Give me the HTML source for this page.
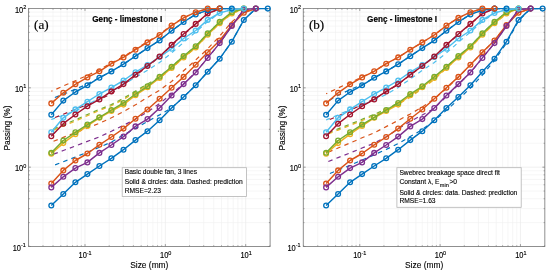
<!DOCTYPE html>
<html><head><meta charset="utf-8"><title>Genç - limestone I</title>
<style>
html,body{margin:0;padding:0;background:#fff}
svg{display:block}
text{font-family:"Liberation Sans",sans-serif;fill:#000;stroke:#000;stroke-width:0.12px}
.tk{font-size:8.3px;stroke-width:0.15px}
.lb{font-size:8.4px}
.tt{font-size:8.6px;font-weight:bold;stroke-width:0.2px}
.pl{font-family:"Liberation Serif",serif;font-size:13.1px;stroke-width:0.18px}
.bx{font-size:6.68px}
</style></head><body>
<svg width="550" height="273" viewBox="0 0 550 273">
<defs>
<clipPath id="cpa"><rect x="25.5" y="4.5" width="247.6" height="246.0"/></clipPath>
<clipPath id="cpb"><rect x="300.25" y="4.5" width="247.6" height="246.0"/></clipPath>
</defs>
<rect width="550" height="273" fill="#fff"/>
<rect x="28.5" y="8.5" width="241.6" height="238.0" fill="#fff"/>
<path d="M28.84,8.5V246.5M42.99,8.5V246.5M53.03,8.5V246.5M60.81,8.5V246.5M67.17,8.5V246.5M72.55,8.5V246.5M77.21,8.5V246.5M81.32,8.5V246.5M109.19,8.5V246.5M123.34,8.5V246.5M133.38,8.5V246.5M141.16,8.5V246.5M147.52,8.5V246.5M152.90,8.5V246.5M157.56,8.5V246.5M161.67,8.5V246.5M189.54,8.5V246.5M203.69,8.5V246.5M213.73,8.5V246.5M221.51,8.5V246.5M227.87,8.5V246.5M233.25,8.5V246.5M237.91,8.5V246.5M242.02,8.5V246.5M269.89,8.5V246.5M28.5,222.62H270.1M28.5,208.65H270.1M28.5,198.74H270.1M28.5,191.05H270.1M28.5,184.77H270.1M28.5,179.46H270.1M28.5,174.85H270.1M28.5,170.80H270.1M28.5,143.28H270.1M28.5,129.32H270.1M28.5,119.40H270.1M28.5,111.72H270.1M28.5,105.43H270.1M28.5,100.12H270.1M28.5,95.52H270.1M28.5,91.46H270.1M28.5,63.95H270.1M28.5,49.98H270.1M28.5,40.07H270.1M28.5,32.38H270.1M28.5,26.10H270.1M28.5,20.79H270.1M28.5,16.19H270.1M28.5,12.13H270.1" stroke="#f0f0f0" stroke-width="0.6" fill="none"/>
<path d="M85.00,8.5V246.5M165.35,8.5V246.5M245.70,8.5V246.5M28.5,246.50H270.1M28.5,167.17H270.1M28.5,87.83H270.1" stroke="#e9e9e9" stroke-width="0.7" fill="none"/>
<path d="M28.84,246.5v-1.2M28.84,8.5v1.2M42.99,246.5v-1.2M42.99,8.5v1.2M53.03,246.5v-1.2M53.03,8.5v1.2M60.81,246.5v-1.2M60.81,8.5v1.2M67.17,246.5v-1.2M67.17,8.5v1.2M72.55,246.5v-1.2M72.55,8.5v1.2M77.21,246.5v-1.2M77.21,8.5v1.2M81.32,246.5v-1.2M81.32,8.5v1.2M85.00,246.5v-2.4M85.00,8.5v2.4M109.19,246.5v-1.2M109.19,8.5v1.2M123.34,246.5v-1.2M123.34,8.5v1.2M133.38,246.5v-1.2M133.38,8.5v1.2M141.16,246.5v-1.2M141.16,8.5v1.2M147.52,246.5v-1.2M147.52,8.5v1.2M152.90,246.5v-1.2M152.90,8.5v1.2M157.56,246.5v-1.2M157.56,8.5v1.2M161.67,246.5v-1.2M161.67,8.5v1.2M165.35,246.5v-2.4M165.35,8.5v2.4M189.54,246.5v-1.2M189.54,8.5v1.2M203.69,246.5v-1.2M203.69,8.5v1.2M213.73,246.5v-1.2M213.73,8.5v1.2M221.51,246.5v-1.2M221.51,8.5v1.2M227.87,246.5v-1.2M227.87,8.5v1.2M233.25,246.5v-1.2M233.25,8.5v1.2M237.91,246.5v-1.2M237.91,8.5v1.2M242.02,246.5v-1.2M242.02,8.5v1.2M245.70,246.5v-2.4M245.70,8.5v2.4M269.89,246.5v-1.2M269.89,8.5v1.2M28.5,246.50h2.4M270.1,246.50h-2.4M28.5,222.62h1.2M270.1,222.62h-1.2M28.5,208.65h1.2M270.1,208.65h-1.2M28.5,198.74h1.2M270.1,198.74h-1.2M28.5,191.05h1.2M270.1,191.05h-1.2M28.5,184.77h1.2M270.1,184.77h-1.2M28.5,179.46h1.2M270.1,179.46h-1.2M28.5,174.85h1.2M270.1,174.85h-1.2M28.5,170.80h1.2M270.1,170.80h-1.2M28.5,167.17h2.4M270.1,167.17h-2.4M28.5,143.28h1.2M270.1,143.28h-1.2M28.5,129.32h1.2M270.1,129.32h-1.2M28.5,119.40h1.2M270.1,119.40h-1.2M28.5,111.72h1.2M270.1,111.72h-1.2M28.5,105.43h1.2M270.1,105.43h-1.2M28.5,100.12h1.2M270.1,100.12h-1.2M28.5,95.52h1.2M270.1,95.52h-1.2M28.5,91.46h1.2M270.1,91.46h-1.2M28.5,87.83h2.4M270.1,87.83h-2.4M28.5,63.95h1.2M270.1,63.95h-1.2M28.5,49.98h1.2M270.1,49.98h-1.2M28.5,40.07h1.2M270.1,40.07h-1.2M28.5,32.38h1.2M270.1,32.38h-1.2M28.5,26.10h1.2M270.1,26.10h-1.2M28.5,20.79h1.2M270.1,20.79h-1.2M28.5,16.19h1.2M270.1,16.19h-1.2M28.5,12.13h1.2M270.1,12.13h-1.2" stroke="#777" stroke-width="0.7" fill="none"/>
<rect x="28.5" y="8.5" width="241.6" height="238.0" fill="none" stroke="#787878" stroke-width="0.8"/>
<g clip-path="url(#cpa)">
<path d="M51.3,166.4 L63.3,161.7 L75.4,157.0 L87.4,152.2 L99.4,147.3 L111.4,142.0 L123.5,135.0 L135.5,128.4 L147.5,121.5 L159.6,114.9 L171.6,108.0 L183.6,97.0 L195.7,85.3 L207.7,71.8 L219.7,58.7 L231.8,41.7 L243.8,20.0 L255.8,8.6 L267.8,8.6" stroke="#0072BD" stroke-width="1.2" fill="none" stroke-dasharray="4.5 4.2" stroke-dashoffset="4.6"/>
<path d="M51.3,142.1 L63.3,137.4 L75.4,132.7 L87.4,128.0 L99.4,123.3 L111.4,117.8 L123.5,111.6 L135.5,104.8 L147.5,97.4 L159.6,90.2 L171.6,81.5 L183.6,70.8 L195.7,60.0 L207.7,48.8 L219.7,36.0 L231.8,22.0 L243.8,11.5 L255.8,8.6" stroke="#D95319" stroke-width="1.2" fill="none" stroke-dasharray="4.5 4.2" stroke-dashoffset="6.3"/>
<path d="M51.3,131.0 L63.3,126.1 L75.4,121.1 L87.4,115.7 L99.4,110.5 L111.4,105.8 L123.5,99.4 L135.5,92.2 L147.5,85.2 L159.6,78.4 L171.6,68.3 L183.6,57.7 L195.7,47.8 L207.7,35.0 L219.7,23.5 L231.8,13.8 L243.8,8.6" stroke="#EDB120" stroke-width="1.2" fill="none" stroke-dasharray="4.5 4.2" stroke-dashoffset="6.3"/>
<path d="M51.3,155.0 L63.3,150.5 L75.4,146.0 L87.4,141.4 L99.4,136.9 L111.4,131.3 L123.5,125.3 L135.5,119.2 L147.5,111.8 L159.6,103.5 L171.6,94.0 L183.6,84.0 L195.7,72.4 L207.7,57.9 L219.7,43.1 L231.8,26.0 L243.8,9.6 L255.8,8.6" stroke="#7E2F8E" stroke-width="1.2" fill="none" stroke-dasharray="4.5 4.2" stroke-dashoffset="6.3"/>
<path d="M51.3,129.8 L63.3,124.9 L75.4,119.9 L87.4,114.5 L99.4,109.3 L111.4,104.6 L123.5,98.2 L135.5,91.0 L147.5,84.0 L159.6,76.8 L171.6,66.7 L183.6,56.1 L195.7,46.2 L207.7,33.4 L219.7,21.9 L231.8,12.2 L243.8,8.6" stroke="#77AC30" stroke-width="1.2" fill="none" stroke-dasharray="4.5 4.2" stroke-dashoffset="6.3"/>
<path d="M51.3,119.5 L63.3,115.3 L75.4,111.0 L87.4,104.7 L99.4,98.1 L111.4,91.5 L123.5,84.5 L135.5,77.3 L147.5,70.3 L159.6,62.5 L171.6,53.0 L183.6,42.4 L195.7,32.0 L207.7,21.6 L219.7,13.0 L231.8,9.6 L243.8,8.6" stroke="#4DBEEE" stroke-width="1.2" fill="none" stroke-dasharray="4.5 4.2" stroke-dashoffset="0.5"/>
<path d="M51.3,119.0 L63.3,114.2 L75.4,109.3 L87.4,104.6 L99.4,99.8 L111.4,93.5 L123.5,85.0 L135.5,75.5 L147.5,66.5 L159.6,57.0 L171.6,45.5 L183.6,34.5 L195.7,24.5 L207.7,14.0 L219.7,8.6" stroke="#A2142F" stroke-width="1.2" fill="none" stroke-dasharray="4.5 4.2" stroke-dashoffset="4.7"/>
<path d="M51.3,98.8 L63.3,94.3 L75.4,89.2 L87.4,84.0 L99.4,77.8 L111.4,71.4 L123.5,64.2 L135.5,56.2 L147.5,48.1 L159.6,40.4 L171.6,30.8 L183.6,22.0 L195.7,14.4 L207.7,10.3 L219.7,8.6 L231.8,8.6" stroke="#0072BD" stroke-width="1.2" fill="none" stroke-dasharray="4.5 4.2" stroke-dashoffset="4.95"/>
<path d="M51.3,91.3 L63.3,86.0 L75.4,80.7 L87.4,75.3 L99.4,69.8 L111.4,63.0 L123.5,56.6 L135.5,48.9 L147.5,41.7 L159.6,34.4 L171.6,25.2 L183.6,17.7 L195.7,12.2 L207.7,8.6 L219.7,8.6" stroke="#D95319" stroke-width="1.2" fill="none" stroke-dasharray="4.5 4.2" stroke-dashoffset="3.2"/>
<path d="M51.3,205.5 L63.3,194.0 L75.4,182.3 L87.4,174.1 L99.4,166.0 L111.4,158.3 L123.5,149.7 L135.5,140.1 L147.5,131.2 L159.6,120.3 L171.6,108.0 L183.6,97.0 L195.7,85.3 L207.7,71.8 L219.7,58.7 L231.8,41.7 L243.8,20.0 L255.8,8.6 L267.8,8.6" stroke="#0072BD" stroke-width="1.45" fill="none" stroke-linejoin="round"/>
<g stroke="#0072BD" stroke-width="1.3" fill="none"><circle cx="51.3" cy="205.5" r="2.4"/><circle cx="63.3" cy="194.0" r="2.4"/><circle cx="75.4" cy="182.3" r="2.4"/><circle cx="87.4" cy="174.1" r="2.4"/><circle cx="99.4" cy="166.0" r="2.4"/><circle cx="111.4" cy="158.3" r="2.4"/><circle cx="123.5" cy="149.7" r="2.4"/><circle cx="135.5" cy="140.1" r="2.4"/><circle cx="147.5" cy="131.2" r="2.4"/><circle cx="159.6" cy="120.3" r="2.4"/><circle cx="171.6" cy="108.0" r="2.4"/><circle cx="183.6" cy="97.0" r="2.4"/><circle cx="195.7" cy="85.3" r="2.4"/><circle cx="207.7" cy="71.8" r="2.4"/><circle cx="219.7" cy="58.7" r="2.4"/><circle cx="231.8" cy="41.7" r="2.4"/><circle cx="243.8" cy="20.0" r="2.4"/><circle cx="255.8" cy="8.6" r="2.4"/><circle cx="267.8" cy="8.6" r="2.4"/></g>
<path d="M51.3,183.6 L63.3,170.4 L75.4,160.5 L87.4,153.5 L99.4,144.8 L111.4,137.0 L123.5,128.6 L135.5,118.8 L147.5,109.5 L159.6,98.8 L171.6,87.8 L183.6,76.9 L195.7,64.7 L207.7,52.3 L219.7,40.5 L231.8,25.0 L243.8,12.8 L255.8,8.6" stroke="#D95319" stroke-width="1.45" fill="none" stroke-linejoin="round"/>
<g stroke="#D95319" stroke-width="1.3" fill="none"><circle cx="51.3" cy="183.6" r="2.4"/><circle cx="63.3" cy="170.4" r="2.4"/><circle cx="75.4" cy="160.5" r="2.4"/><circle cx="87.4" cy="153.5" r="2.4"/><circle cx="99.4" cy="144.8" r="2.4"/><circle cx="111.4" cy="137.0" r="2.4"/><circle cx="123.5" cy="128.6" r="2.4"/><circle cx="135.5" cy="118.8" r="2.4"/><circle cx="147.5" cy="109.5" r="2.4"/><circle cx="159.6" cy="98.8" r="2.4"/><circle cx="171.6" cy="87.8" r="2.4"/><circle cx="183.6" cy="76.9" r="2.4"/><circle cx="195.7" cy="64.7" r="2.4"/><circle cx="207.7" cy="52.3" r="2.4"/><circle cx="219.7" cy="40.5" r="2.4"/><circle cx="231.8" cy="25.0" r="2.4"/><circle cx="243.8" cy="12.8" r="2.4"/><circle cx="255.8" cy="8.6" r="2.4"/></g>
<path d="M51.3,153.8 L63.3,143.1 L75.4,134.2 L87.4,125.9 L99.4,117.8 L111.4,111.0 L123.5,104.6 L135.5,95.2 L147.5,87.3 L159.6,78.0 L171.6,68.0 L183.6,57.4 L195.7,47.5 L207.7,34.7 L219.7,23.2 L231.8,13.4 L243.8,8.6" stroke="#EDB120" stroke-width="1.45" fill="none" stroke-linejoin="round"/>
<g stroke="#EDB120" stroke-width="1.3" fill="none"><circle cx="51.3" cy="153.8" r="2.4"/><circle cx="63.3" cy="143.1" r="2.4"/><circle cx="75.4" cy="134.2" r="2.4"/><circle cx="87.4" cy="125.9" r="2.4"/><circle cx="99.4" cy="117.8" r="2.4"/><circle cx="111.4" cy="111.0" r="2.4"/><circle cx="123.5" cy="104.6" r="2.4"/><circle cx="135.5" cy="95.2" r="2.4"/><circle cx="147.5" cy="87.3" r="2.4"/><circle cx="159.6" cy="78.0" r="2.4"/><circle cx="171.6" cy="68.0" r="2.4"/><circle cx="183.6" cy="57.4" r="2.4"/><circle cx="195.7" cy="47.5" r="2.4"/><circle cx="207.7" cy="34.7" r="2.4"/><circle cx="219.7" cy="23.2" r="2.4"/><circle cx="231.8" cy="13.4" r="2.4"/><circle cx="243.8" cy="8.6" r="2.4"/></g>
<path d="M51.3,187.4 L63.3,176.8 L75.4,168.1 L87.4,162.4 L99.4,152.9 L111.4,145.0 L123.5,136.6 L135.5,126.4 L147.5,119.1 L159.6,108.0 L171.6,95.5 L183.6,84.1 L195.7,72.4 L207.7,57.9 L219.7,43.1 L231.8,26.0 L243.8,9.6 L255.8,8.6" stroke="#7E2F8E" stroke-width="1.45" fill="none" stroke-linejoin="round"/>
<g stroke="#7E2F8E" stroke-width="1.3" fill="none"><circle cx="51.3" cy="187.4" r="2.4"/><circle cx="63.3" cy="176.8" r="2.4"/><circle cx="75.4" cy="168.1" r="2.4"/><circle cx="87.4" cy="162.4" r="2.4"/><circle cx="99.4" cy="152.9" r="2.4"/><circle cx="111.4" cy="145.0" r="2.4"/><circle cx="123.5" cy="136.6" r="2.4"/><circle cx="135.5" cy="126.4" r="2.4"/><circle cx="147.5" cy="119.1" r="2.4"/><circle cx="159.6" cy="108.0" r="2.4"/><circle cx="171.6" cy="95.5" r="2.4"/><circle cx="183.6" cy="84.1" r="2.4"/><circle cx="195.7" cy="72.4" r="2.4"/><circle cx="207.7" cy="57.9" r="2.4"/><circle cx="219.7" cy="43.1" r="2.4"/><circle cx="231.8" cy="26.0" r="2.4"/><circle cx="243.8" cy="9.6" r="2.4"/><circle cx="255.8" cy="8.6" r="2.4"/></g>
<path d="M51.3,152.8 L63.3,140.5 L75.4,132.3 L87.4,124.6 L99.4,117.3 L111.4,110.0 L123.5,103.0 L135.5,94.0 L147.5,86.3 L159.6,76.8 L171.6,66.7 L183.6,56.1 L195.7,46.2 L207.7,33.4 L219.7,21.9 L231.8,12.2 L243.8,8.6" stroke="#77AC30" stroke-width="1.45" fill="none" stroke-linejoin="round"/>
<g stroke="#77AC30" stroke-width="1.3" fill="none"><circle cx="51.3" cy="152.8" r="2.4"/><circle cx="63.3" cy="140.5" r="2.4"/><circle cx="75.4" cy="132.3" r="2.4"/><circle cx="87.4" cy="124.6" r="2.4"/><circle cx="99.4" cy="117.3" r="2.4"/><circle cx="111.4" cy="110.0" r="2.4"/><circle cx="123.5" cy="103.0" r="2.4"/><circle cx="135.5" cy="94.0" r="2.4"/><circle cx="147.5" cy="86.3" r="2.4"/><circle cx="159.6" cy="76.8" r="2.4"/><circle cx="171.6" cy="66.7" r="2.4"/><circle cx="183.6" cy="56.1" r="2.4"/><circle cx="195.7" cy="46.2" r="2.4"/><circle cx="207.7" cy="33.4" r="2.4"/><circle cx="219.7" cy="21.9" r="2.4"/><circle cx="231.8" cy="12.2" r="2.4"/><circle cx="243.8" cy="8.6" r="2.4"/></g>
<path d="M51.3,132.3 L63.3,117.8 L75.4,109.4 L87.4,101.7 L99.4,94.0 L111.4,87.6 L123.5,80.5 L135.5,72.2 L147.5,65.0 L159.6,57.0 L171.6,48.7 L183.6,38.5 L195.7,30.5 L207.7,19.9 L219.7,13.0 L231.8,9.6 L243.8,8.6" stroke="#4DBEEE" stroke-width="1.45" fill="none" stroke-linejoin="round"/>
<g stroke="#4DBEEE" stroke-width="1.3" fill="none"><circle cx="51.3" cy="132.3" r="2.4"/><circle cx="63.3" cy="117.8" r="2.4"/><circle cx="75.4" cy="109.4" r="2.4"/><circle cx="87.4" cy="101.7" r="2.4"/><circle cx="99.4" cy="94.0" r="2.4"/><circle cx="111.4" cy="87.6" r="2.4"/><circle cx="123.5" cy="80.5" r="2.4"/><circle cx="135.5" cy="72.2" r="2.4"/><circle cx="147.5" cy="65.0" r="2.4"/><circle cx="159.6" cy="57.0" r="2.4"/><circle cx="171.6" cy="48.7" r="2.4"/><circle cx="183.6" cy="38.5" r="2.4"/><circle cx="195.7" cy="30.5" r="2.4"/><circle cx="207.7" cy="19.9" r="2.4"/><circle cx="219.7" cy="13.0" r="2.4"/><circle cx="231.8" cy="9.6" r="2.4"/><circle cx="243.8" cy="8.6" r="2.4"/></g>
<path d="M51.3,136.2 L63.3,123.7 L75.4,114.5 L87.4,106.2 L99.4,99.4 L111.4,91.4 L123.5,84.1 L135.5,74.7 L147.5,66.0 L159.6,56.5 L171.6,44.9 L183.6,34.0 L195.7,23.9 L207.7,13.5 L219.7,8.6" stroke="#A2142F" stroke-width="1.45" fill="none" stroke-linejoin="round"/>
<g stroke="#A2142F" stroke-width="1.3" fill="none"><circle cx="51.3" cy="136.2" r="2.4"/><circle cx="63.3" cy="123.7" r="2.4"/><circle cx="75.4" cy="114.5" r="2.4"/><circle cx="87.4" cy="106.2" r="2.4"/><circle cx="99.4" cy="99.4" r="2.4"/><circle cx="111.4" cy="91.4" r="2.4"/><circle cx="123.5" cy="84.1" r="2.4"/><circle cx="135.5" cy="74.7" r="2.4"/><circle cx="147.5" cy="66.0" r="2.4"/><circle cx="159.6" cy="56.5" r="2.4"/><circle cx="171.6" cy="44.9" r="2.4"/><circle cx="183.6" cy="34.0" r="2.4"/><circle cx="195.7" cy="23.9" r="2.4"/><circle cx="207.7" cy="13.5" r="2.4"/><circle cx="219.7" cy="8.6" r="2.4"/></g>
<path d="M51.3,114.7 L63.3,100.6 L75.4,92.0 L87.4,85.3 L99.4,77.7 L111.4,71.4 L123.5,64.2 L135.5,56.2 L147.5,48.1 L159.6,40.4 L171.6,30.8 L183.6,22.0 L195.7,14.4 L207.7,10.3 L219.7,8.6 L231.8,8.6" stroke="#0072BD" stroke-width="1.45" fill="none" stroke-linejoin="round"/>
<g stroke="#0072BD" stroke-width="1.3" fill="none"><circle cx="51.3" cy="114.7" r="2.4"/><circle cx="63.3" cy="100.6" r="2.4"/><circle cx="75.4" cy="92.0" r="2.4"/><circle cx="87.4" cy="85.3" r="2.4"/><circle cx="99.4" cy="77.7" r="2.4"/><circle cx="111.4" cy="71.4" r="2.4"/><circle cx="123.5" cy="64.2" r="2.4"/><circle cx="135.5" cy="56.2" r="2.4"/><circle cx="147.5" cy="48.1" r="2.4"/><circle cx="159.6" cy="40.4" r="2.4"/><circle cx="171.6" cy="30.8" r="2.4"/><circle cx="183.6" cy="22.0" r="2.4"/><circle cx="195.7" cy="14.4" r="2.4"/><circle cx="207.7" cy="10.3" r="2.4"/><circle cx="219.7" cy="8.6" r="2.4"/><circle cx="231.8" cy="8.6" r="2.4"/></g>
<path d="M51.3,103.4 L63.3,92.8 L75.4,84.3 L87.4,77.4 L99.4,71.3 L111.4,63.7 L123.5,57.4 L135.5,49.7 L147.5,42.4 L159.6,35.0 L171.6,25.6 L183.6,17.9 L195.7,12.2 L207.7,8.6 L219.7,8.6" stroke="#D95319" stroke-width="1.45" fill="none" stroke-linejoin="round"/>
<g stroke="#D95319" stroke-width="1.3" fill="none"><circle cx="51.3" cy="103.4" r="2.4"/><circle cx="63.3" cy="92.8" r="2.4"/><circle cx="75.4" cy="84.3" r="2.4"/><circle cx="87.4" cy="77.4" r="2.4"/><circle cx="99.4" cy="71.3" r="2.4"/><circle cx="111.4" cy="63.7" r="2.4"/><circle cx="123.5" cy="57.4" r="2.4"/><circle cx="135.5" cy="49.7" r="2.4"/><circle cx="147.5" cy="42.4" r="2.4"/><circle cx="159.6" cy="35.0" r="2.4"/><circle cx="171.6" cy="25.6" r="2.4"/><circle cx="183.6" cy="17.9" r="2.4"/><circle cx="195.7" cy="12.2" r="2.4"/><circle cx="207.7" cy="8.6" r="2.4"/><circle cx="219.7" cy="8.6" r="2.4"/></g>
</g>
<text transform="translate(78.5,258.4) scale(0.9,1)" class="tk">10<tspan dy="-3.7" font-size="6.1">-1</tspan></text>
<text transform="translate(160.0,258.4) scale(0.9,1)" class="tk">10<tspan dy="-3.7" font-size="6.1">0</tspan></text>
<text transform="translate(240.4,258.4) scale(0.9,1)" class="tk">10<tspan dy="-3.7" font-size="6.1">1</tspan></text>
<text transform="translate(12.7,250.6) scale(0.9,1)" class="tk">10<tspan dy="-3.7" font-size="6.1">-1</tspan></text>
<text transform="translate(14.9,171.3) scale(0.9,1)" class="tk">10<tspan dy="-3.7" font-size="6.1">0</tspan></text>
<text transform="translate(14.9,91.9) scale(0.9,1)" class="tk">10<tspan dy="-3.7" font-size="6.1">1</tspan></text>
<text transform="translate(14.9,12.6) scale(0.9,1)" class="tk">10<tspan dy="-3.7" font-size="6.1">2</tspan></text>
<text x="149.3" y="268.2" text-anchor="middle" class="lb">Size (mm)</text>
<text transform="translate(10.1,128.0) rotate(-90)" text-anchor="middle" class="lb">Passing (%)</text>
<text transform="translate(92.3,22.4) scale(0.945,1)" class="tt">Genç - limestone I</text>
<text x="34.1" y="28.5" class="pl">(a)</text>
<rect x="122.2" y="167.7" width="124.2" height="28.7" fill="#fff" stroke="#b4b4b4" stroke-width="0.8"/>
<text x="124.7" y="174.3" class="bx">Basic double fan, 3 lines</text>
<text x="124.7" y="183.6" class="bx">Solid &amp; circles: data. Dashed: prediction</text>
<text x="124.7" y="192.6" class="bx">RMSE=2.23</text>
<rect x="303.25" y="8.5" width="241.6" height="238.0" fill="#fff"/>
<path d="M303.59,8.5V246.5M317.74,8.5V246.5M327.78,8.5V246.5M335.56,8.5V246.5M341.92,8.5V246.5M347.30,8.5V246.5M351.96,8.5V246.5M356.07,8.5V246.5M383.94,8.5V246.5M398.09,8.5V246.5M408.13,8.5V246.5M415.91,8.5V246.5M422.27,8.5V246.5M427.65,8.5V246.5M432.31,8.5V246.5M436.42,8.5V246.5M464.29,8.5V246.5M478.44,8.5V246.5M488.48,8.5V246.5M496.26,8.5V246.5M502.62,8.5V246.5M508.00,8.5V246.5M512.66,8.5V246.5M516.77,8.5V246.5M544.64,8.5V246.5M303.25,222.62H544.85M303.25,208.65H544.85M303.25,198.74H544.85M303.25,191.05H544.85M303.25,184.77H544.85M303.25,179.46H544.85M303.25,174.85H544.85M303.25,170.80H544.85M303.25,143.28H544.85M303.25,129.32H544.85M303.25,119.40H544.85M303.25,111.72H544.85M303.25,105.43H544.85M303.25,100.12H544.85M303.25,95.52H544.85M303.25,91.46H544.85M303.25,63.95H544.85M303.25,49.98H544.85M303.25,40.07H544.85M303.25,32.38H544.85M303.25,26.10H544.85M303.25,20.79H544.85M303.25,16.19H544.85M303.25,12.13H544.85" stroke="#f0f0f0" stroke-width="0.6" fill="none"/>
<path d="M359.75,8.5V246.5M440.10,8.5V246.5M520.45,8.5V246.5M303.25,246.50H544.85M303.25,167.17H544.85M303.25,87.83H544.85" stroke="#e9e9e9" stroke-width="0.7" fill="none"/>
<path d="M303.59,246.5v-1.2M303.59,8.5v1.2M317.74,246.5v-1.2M317.74,8.5v1.2M327.78,246.5v-1.2M327.78,8.5v1.2M335.56,246.5v-1.2M335.56,8.5v1.2M341.92,246.5v-1.2M341.92,8.5v1.2M347.30,246.5v-1.2M347.30,8.5v1.2M351.96,246.5v-1.2M351.96,8.5v1.2M356.07,246.5v-1.2M356.07,8.5v1.2M359.75,246.5v-2.4M359.75,8.5v2.4M383.94,246.5v-1.2M383.94,8.5v1.2M398.09,246.5v-1.2M398.09,8.5v1.2M408.13,246.5v-1.2M408.13,8.5v1.2M415.91,246.5v-1.2M415.91,8.5v1.2M422.27,246.5v-1.2M422.27,8.5v1.2M427.65,246.5v-1.2M427.65,8.5v1.2M432.31,246.5v-1.2M432.31,8.5v1.2M436.42,246.5v-1.2M436.42,8.5v1.2M440.10,246.5v-2.4M440.10,8.5v2.4M464.29,246.5v-1.2M464.29,8.5v1.2M478.44,246.5v-1.2M478.44,8.5v1.2M488.48,246.5v-1.2M488.48,8.5v1.2M496.26,246.5v-1.2M496.26,8.5v1.2M502.62,246.5v-1.2M502.62,8.5v1.2M508.00,246.5v-1.2M508.00,8.5v1.2M512.66,246.5v-1.2M512.66,8.5v1.2M516.77,246.5v-1.2M516.77,8.5v1.2M520.45,246.5v-2.4M520.45,8.5v2.4M544.64,246.5v-1.2M544.64,8.5v1.2M303.25,246.50h2.4M544.85,246.50h-2.4M303.25,222.62h1.2M544.85,222.62h-1.2M303.25,208.65h1.2M544.85,208.65h-1.2M303.25,198.74h1.2M544.85,198.74h-1.2M303.25,191.05h1.2M544.85,191.05h-1.2M303.25,184.77h1.2M544.85,184.77h-1.2M303.25,179.46h1.2M544.85,179.46h-1.2M303.25,174.85h1.2M544.85,174.85h-1.2M303.25,170.80h1.2M544.85,170.80h-1.2M303.25,167.17h2.4M544.85,167.17h-2.4M303.25,143.28h1.2M544.85,143.28h-1.2M303.25,129.32h1.2M544.85,129.32h-1.2M303.25,119.40h1.2M544.85,119.40h-1.2M303.25,111.72h1.2M544.85,111.72h-1.2M303.25,105.43h1.2M544.85,105.43h-1.2M303.25,100.12h1.2M544.85,100.12h-1.2M303.25,95.52h1.2M544.85,95.52h-1.2M303.25,91.46h1.2M544.85,91.46h-1.2M303.25,87.83h2.4M544.85,87.83h-2.4M303.25,63.95h1.2M544.85,63.95h-1.2M303.25,49.98h1.2M544.85,49.98h-1.2M303.25,40.07h1.2M544.85,40.07h-1.2M303.25,32.38h1.2M544.85,32.38h-1.2M303.25,26.10h1.2M544.85,26.10h-1.2M303.25,20.79h1.2M544.85,20.79h-1.2M303.25,16.19h1.2M544.85,16.19h-1.2M303.25,12.13h1.2M544.85,12.13h-1.2" stroke="#777" stroke-width="0.7" fill="none"/>
<rect x="303.25" y="8.5" width="241.6" height="238.0" fill="none" stroke="#787878" stroke-width="0.8"/>
<g clip-path="url(#cpb)">
<path d="M326.1,175.0 L338.1,170.2 L350.1,165.3 L362.1,160.0 L374.2,154.8 L386.2,149.5 L398.2,143.5 L410.3,136.6 L422.3,129.5 L434.3,120.5 L446.4,110.3 L458.4,99.5 L470.4,88.0 L482.4,75.0 L494.5,60.5 L506.5,43.0 L518.5,21.0 L530.6,8.6 L542.6,8.6" stroke="#0072BD" stroke-width="1.2" fill="none" stroke-dasharray="4.5 4.2" stroke-dashoffset="4.6"/>
<path d="M326.1,153.0 L338.1,148.0 L350.1,143.0 L362.1,137.8 L374.2,132.8 L386.2,126.6 L398.2,120.4 L410.3,114.0 L422.3,107.0 L434.3,98.8 L446.4,88.5 L458.4,77.2 L470.4,65.0 L482.4,52.5 L494.5,40.5 L506.5,25.0 L518.5,12.8 L530.6,8.6" stroke="#D95319" stroke-width="1.2" fill="none" stroke-dasharray="4.5 4.2" stroke-dashoffset="6.3"/>
<path d="M326.1,134.8 L338.1,130.1 L350.1,125.4 L362.1,120.5 L374.2,115.5 L386.2,110.2 L398.2,104.2 L410.3,97.2 L422.3,88.7 L434.3,79.6 L446.4,68.3 L458.4,57.7 L470.4,47.8 L482.4,35.0 L494.5,23.5 L506.5,13.8 L518.5,8.6" stroke="#EDB120" stroke-width="1.2" fill="none" stroke-dasharray="4.5 4.2" stroke-dashoffset="6.3"/>
<path d="M326.1,162.4 L338.1,157.6 L350.1,152.9 L362.1,148.0 L374.2,143.2 L386.2,136.8 L398.2,128.8 L410.3,121.3 L422.3,115.0 L434.3,108.3 L446.4,96.5 L458.4,84.6 L470.4,72.6 L482.4,58.0 L494.5,43.1 L506.5,26.0 L518.5,9.6 L530.6,8.6" stroke="#7E2F8E" stroke-width="1.2" fill="none" stroke-dasharray="4.5 4.2" stroke-dashoffset="6.3"/>
<path d="M326.1,133.6 L338.1,128.9 L350.1,124.2 L362.1,119.3 L374.2,114.3 L386.2,109.0 L398.2,103.0 L410.3,96.0 L422.3,87.5 L434.3,78.0 L446.4,66.7 L458.4,56.1 L470.4,46.2 L482.4,33.4 L494.5,21.9 L506.5,12.2 L518.5,8.6" stroke="#77AC30" stroke-width="1.2" fill="none" stroke-dasharray="4.5 4.2" stroke-dashoffset="6.3"/>
<path d="M326.1,120.0 L338.1,114.8 L350.1,109.6 L362.1,105.0 L374.2,100.0 L386.2,94.5 L398.2,87.5 L410.3,79.0 L422.3,70.3 L434.3,62.5 L446.4,53.0 L458.4,42.4 L470.4,32.0 L482.4,21.6 L494.5,13.0 L506.5,9.6 L518.5,8.6" stroke="#4DBEEE" stroke-width="1.2" fill="none" stroke-dasharray="4.5 4.2" stroke-dashoffset="0.5"/>
<path d="M326.1,121.0 L338.1,116.0 L350.1,110.3 L362.1,104.5 L374.2,99.0 L386.2,92.0 L398.2,84.3 L410.3,75.0 L422.3,66.2 L434.3,56.7 L446.4,45.2 L458.4,34.3 L470.4,24.2 L482.4,13.8 L494.5,8.6" stroke="#A2142F" stroke-width="1.2" fill="none" stroke-dasharray="4.5 4.2" stroke-dashoffset="4.7"/>
<path d="M326.1,102.0 L338.1,95.3 L350.1,89.7 L362.1,84.5 L374.2,78.0 L386.2,71.4 L398.2,64.2 L410.3,56.2 L422.3,48.1 L434.3,40.4 L446.4,30.8 L458.4,22.0 L470.4,14.4 L482.4,10.3 L494.5,8.6 L506.5,8.6" stroke="#0072BD" stroke-width="1.2" fill="none" stroke-dasharray="4.5 4.2" stroke-dashoffset="4.95"/>
<path d="M326.1,93.8 L338.1,88.0 L350.1,82.6 L362.1,77.0 L374.2,71.1 L386.2,63.7 L398.2,57.4 L410.3,49.7 L422.3,42.4 L434.3,35.0 L446.4,25.6 L458.4,17.9 L470.4,12.2 L482.4,8.6 L494.5,8.6" stroke="#D95319" stroke-width="1.2" fill="none" stroke-dasharray="4.5 4.2" stroke-dashoffset="3.2"/>
<path d="M326.1,205.5 L338.1,194.0 L350.1,182.3 L362.1,174.1 L374.2,166.0 L386.2,158.3 L398.2,149.7 L410.3,140.1 L422.3,131.2 L434.3,120.3 L446.4,108.0 L458.4,97.0 L470.4,85.3 L482.4,71.8 L494.5,58.7 L506.5,41.7 L518.5,20.0 L530.6,8.6 L542.6,8.6" stroke="#0072BD" stroke-width="1.45" fill="none" stroke-linejoin="round"/>
<g stroke="#0072BD" stroke-width="1.3" fill="none"><circle cx="326.1" cy="205.5" r="2.4"/><circle cx="338.1" cy="194.0" r="2.4"/><circle cx="350.1" cy="182.3" r="2.4"/><circle cx="362.1" cy="174.1" r="2.4"/><circle cx="374.2" cy="166.0" r="2.4"/><circle cx="386.2" cy="158.3" r="2.4"/><circle cx="398.2" cy="149.7" r="2.4"/><circle cx="410.3" cy="140.1" r="2.4"/><circle cx="422.3" cy="131.2" r="2.4"/><circle cx="434.3" cy="120.3" r="2.4"/><circle cx="446.4" cy="108.0" r="2.4"/><circle cx="458.4" cy="97.0" r="2.4"/><circle cx="470.4" cy="85.3" r="2.4"/><circle cx="482.4" cy="71.8" r="2.4"/><circle cx="494.5" cy="58.7" r="2.4"/><circle cx="506.5" cy="41.7" r="2.4"/><circle cx="518.5" cy="20.0" r="2.4"/><circle cx="530.6" cy="8.6" r="2.4"/><circle cx="542.6" cy="8.6" r="2.4"/></g>
<path d="M326.1,183.6 L338.1,170.4 L350.1,160.5 L362.1,153.5 L374.2,144.8 L386.2,137.0 L398.2,128.6 L410.3,118.8 L422.3,109.5 L434.3,98.8 L446.4,87.8 L458.4,76.9 L470.4,64.7 L482.4,52.3 L494.5,40.5 L506.5,25.0 L518.5,12.8 L530.6,8.6" stroke="#D95319" stroke-width="1.45" fill="none" stroke-linejoin="round"/>
<g stroke="#D95319" stroke-width="1.3" fill="none"><circle cx="326.1" cy="183.6" r="2.4"/><circle cx="338.1" cy="170.4" r="2.4"/><circle cx="350.1" cy="160.5" r="2.4"/><circle cx="362.1" cy="153.5" r="2.4"/><circle cx="374.2" cy="144.8" r="2.4"/><circle cx="386.2" cy="137.0" r="2.4"/><circle cx="398.2" cy="128.6" r="2.4"/><circle cx="410.3" cy="118.8" r="2.4"/><circle cx="422.3" cy="109.5" r="2.4"/><circle cx="434.3" cy="98.8" r="2.4"/><circle cx="446.4" cy="87.8" r="2.4"/><circle cx="458.4" cy="76.9" r="2.4"/><circle cx="470.4" cy="64.7" r="2.4"/><circle cx="482.4" cy="52.3" r="2.4"/><circle cx="494.5" cy="40.5" r="2.4"/><circle cx="506.5" cy="25.0" r="2.4"/><circle cx="518.5" cy="12.8" r="2.4"/><circle cx="530.6" cy="8.6" r="2.4"/></g>
<path d="M326.1,153.8 L338.1,143.1 L350.1,134.2 L362.1,125.9 L374.2,117.8 L386.2,111.0 L398.2,104.6 L410.3,95.2 L422.3,87.3 L434.3,78.0 L446.4,68.0 L458.4,57.4 L470.4,47.5 L482.4,34.7 L494.5,23.2 L506.5,13.4 L518.5,8.6" stroke="#EDB120" stroke-width="1.45" fill="none" stroke-linejoin="round"/>
<g stroke="#EDB120" stroke-width="1.3" fill="none"><circle cx="326.1" cy="153.8" r="2.4"/><circle cx="338.1" cy="143.1" r="2.4"/><circle cx="350.1" cy="134.2" r="2.4"/><circle cx="362.1" cy="125.9" r="2.4"/><circle cx="374.2" cy="117.8" r="2.4"/><circle cx="386.2" cy="111.0" r="2.4"/><circle cx="398.2" cy="104.6" r="2.4"/><circle cx="410.3" cy="95.2" r="2.4"/><circle cx="422.3" cy="87.3" r="2.4"/><circle cx="434.3" cy="78.0" r="2.4"/><circle cx="446.4" cy="68.0" r="2.4"/><circle cx="458.4" cy="57.4" r="2.4"/><circle cx="470.4" cy="47.5" r="2.4"/><circle cx="482.4" cy="34.7" r="2.4"/><circle cx="494.5" cy="23.2" r="2.4"/><circle cx="506.5" cy="13.4" r="2.4"/><circle cx="518.5" cy="8.6" r="2.4"/></g>
<path d="M326.1,187.4 L338.1,176.8 L350.1,168.1 L362.1,162.4 L374.2,152.9 L386.2,145.0 L398.2,136.6 L410.3,126.4 L422.3,119.1 L434.3,108.0 L446.4,95.5 L458.4,84.1 L470.4,72.4 L482.4,57.9 L494.5,43.1 L506.5,26.0 L518.5,9.6 L530.6,8.6" stroke="#7E2F8E" stroke-width="1.45" fill="none" stroke-linejoin="round"/>
<g stroke="#7E2F8E" stroke-width="1.3" fill="none"><circle cx="326.1" cy="187.4" r="2.4"/><circle cx="338.1" cy="176.8" r="2.4"/><circle cx="350.1" cy="168.1" r="2.4"/><circle cx="362.1" cy="162.4" r="2.4"/><circle cx="374.2" cy="152.9" r="2.4"/><circle cx="386.2" cy="145.0" r="2.4"/><circle cx="398.2" cy="136.6" r="2.4"/><circle cx="410.3" cy="126.4" r="2.4"/><circle cx="422.3" cy="119.1" r="2.4"/><circle cx="434.3" cy="108.0" r="2.4"/><circle cx="446.4" cy="95.5" r="2.4"/><circle cx="458.4" cy="84.1" r="2.4"/><circle cx="470.4" cy="72.4" r="2.4"/><circle cx="482.4" cy="57.9" r="2.4"/><circle cx="494.5" cy="43.1" r="2.4"/><circle cx="506.5" cy="26.0" r="2.4"/><circle cx="518.5" cy="9.6" r="2.4"/><circle cx="530.6" cy="8.6" r="2.4"/></g>
<path d="M326.1,152.8 L338.1,140.5 L350.1,132.3 L362.1,124.6 L374.2,117.3 L386.2,110.0 L398.2,103.0 L410.3,94.0 L422.3,86.3 L434.3,76.8 L446.4,66.7 L458.4,56.1 L470.4,46.2 L482.4,33.4 L494.5,21.9 L506.5,12.2 L518.5,8.6" stroke="#77AC30" stroke-width="1.45" fill="none" stroke-linejoin="round"/>
<g stroke="#77AC30" stroke-width="1.3" fill="none"><circle cx="326.1" cy="152.8" r="2.4"/><circle cx="338.1" cy="140.5" r="2.4"/><circle cx="350.1" cy="132.3" r="2.4"/><circle cx="362.1" cy="124.6" r="2.4"/><circle cx="374.2" cy="117.3" r="2.4"/><circle cx="386.2" cy="110.0" r="2.4"/><circle cx="398.2" cy="103.0" r="2.4"/><circle cx="410.3" cy="94.0" r="2.4"/><circle cx="422.3" cy="86.3" r="2.4"/><circle cx="434.3" cy="76.8" r="2.4"/><circle cx="446.4" cy="66.7" r="2.4"/><circle cx="458.4" cy="56.1" r="2.4"/><circle cx="470.4" cy="46.2" r="2.4"/><circle cx="482.4" cy="33.4" r="2.4"/><circle cx="494.5" cy="21.9" r="2.4"/><circle cx="506.5" cy="12.2" r="2.4"/><circle cx="518.5" cy="8.6" r="2.4"/></g>
<path d="M326.1,132.3 L338.1,117.8 L350.1,109.4 L362.1,101.7 L374.2,94.0 L386.2,87.6 L398.2,80.5 L410.3,72.2 L422.3,65.0 L434.3,57.0 L446.4,48.7 L458.4,38.5 L470.4,30.5 L482.4,19.9 L494.5,13.0 L506.5,9.6 L518.5,8.6" stroke="#4DBEEE" stroke-width="1.45" fill="none" stroke-linejoin="round"/>
<g stroke="#4DBEEE" stroke-width="1.3" fill="none"><circle cx="326.1" cy="132.3" r="2.4"/><circle cx="338.1" cy="117.8" r="2.4"/><circle cx="350.1" cy="109.4" r="2.4"/><circle cx="362.1" cy="101.7" r="2.4"/><circle cx="374.2" cy="94.0" r="2.4"/><circle cx="386.2" cy="87.6" r="2.4"/><circle cx="398.2" cy="80.5" r="2.4"/><circle cx="410.3" cy="72.2" r="2.4"/><circle cx="422.3" cy="65.0" r="2.4"/><circle cx="434.3" cy="57.0" r="2.4"/><circle cx="446.4" cy="48.7" r="2.4"/><circle cx="458.4" cy="38.5" r="2.4"/><circle cx="470.4" cy="30.5" r="2.4"/><circle cx="482.4" cy="19.9" r="2.4"/><circle cx="494.5" cy="13.0" r="2.4"/><circle cx="506.5" cy="9.6" r="2.4"/><circle cx="518.5" cy="8.6" r="2.4"/></g>
<path d="M326.1,136.2 L338.1,123.7 L350.1,114.5 L362.1,106.2 L374.2,99.4 L386.2,91.4 L398.2,84.1 L410.3,74.7 L422.3,66.0 L434.3,56.5 L446.4,44.9 L458.4,34.0 L470.4,23.9 L482.4,13.5 L494.5,8.6" stroke="#A2142F" stroke-width="1.45" fill="none" stroke-linejoin="round"/>
<g stroke="#A2142F" stroke-width="1.3" fill="none"><circle cx="326.1" cy="136.2" r="2.4"/><circle cx="338.1" cy="123.7" r="2.4"/><circle cx="350.1" cy="114.5" r="2.4"/><circle cx="362.1" cy="106.2" r="2.4"/><circle cx="374.2" cy="99.4" r="2.4"/><circle cx="386.2" cy="91.4" r="2.4"/><circle cx="398.2" cy="84.1" r="2.4"/><circle cx="410.3" cy="74.7" r="2.4"/><circle cx="422.3" cy="66.0" r="2.4"/><circle cx="434.3" cy="56.5" r="2.4"/><circle cx="446.4" cy="44.9" r="2.4"/><circle cx="458.4" cy="34.0" r="2.4"/><circle cx="470.4" cy="23.9" r="2.4"/><circle cx="482.4" cy="13.5" r="2.4"/><circle cx="494.5" cy="8.6" r="2.4"/></g>
<path d="M326.1,114.7 L338.1,100.6 L350.1,92.0 L362.1,85.3 L374.2,77.7 L386.2,71.4 L398.2,64.2 L410.3,56.2 L422.3,48.1 L434.3,40.4 L446.4,30.8 L458.4,22.0 L470.4,14.4 L482.4,10.3 L494.5,8.6 L506.5,8.6" stroke="#0072BD" stroke-width="1.45" fill="none" stroke-linejoin="round"/>
<g stroke="#0072BD" stroke-width="1.3" fill="none"><circle cx="326.1" cy="114.7" r="2.4"/><circle cx="338.1" cy="100.6" r="2.4"/><circle cx="350.1" cy="92.0" r="2.4"/><circle cx="362.1" cy="85.3" r="2.4"/><circle cx="374.2" cy="77.7" r="2.4"/><circle cx="386.2" cy="71.4" r="2.4"/><circle cx="398.2" cy="64.2" r="2.4"/><circle cx="410.3" cy="56.2" r="2.4"/><circle cx="422.3" cy="48.1" r="2.4"/><circle cx="434.3" cy="40.4" r="2.4"/><circle cx="446.4" cy="30.8" r="2.4"/><circle cx="458.4" cy="22.0" r="2.4"/><circle cx="470.4" cy="14.4" r="2.4"/><circle cx="482.4" cy="10.3" r="2.4"/><circle cx="494.5" cy="8.6" r="2.4"/><circle cx="506.5" cy="8.6" r="2.4"/></g>
<path d="M326.1,103.4 L338.1,92.8 L350.1,84.3 L362.1,77.4 L374.2,71.3 L386.2,63.7 L398.2,57.4 L410.3,49.7 L422.3,42.4 L434.3,35.0 L446.4,25.6 L458.4,17.9 L470.4,12.2 L482.4,8.6 L494.5,8.6" stroke="#D95319" stroke-width="1.45" fill="none" stroke-linejoin="round"/>
<g stroke="#D95319" stroke-width="1.3" fill="none"><circle cx="326.1" cy="103.4" r="2.4"/><circle cx="338.1" cy="92.8" r="2.4"/><circle cx="350.1" cy="84.3" r="2.4"/><circle cx="362.1" cy="77.4" r="2.4"/><circle cx="374.2" cy="71.3" r="2.4"/><circle cx="386.2" cy="63.7" r="2.4"/><circle cx="398.2" cy="57.4" r="2.4"/><circle cx="410.3" cy="49.7" r="2.4"/><circle cx="422.3" cy="42.4" r="2.4"/><circle cx="434.3" cy="35.0" r="2.4"/><circle cx="446.4" cy="25.6" r="2.4"/><circle cx="458.4" cy="17.9" r="2.4"/><circle cx="470.4" cy="12.2" r="2.4"/><circle cx="482.4" cy="8.6" r="2.4"/><circle cx="494.5" cy="8.6" r="2.4"/></g>
</g>
<text transform="translate(353.2,258.4) scale(0.9,1)" class="tk">10<tspan dy="-3.7" font-size="6.1">-1</tspan></text>
<text transform="translate(434.8,258.4) scale(0.9,1)" class="tk">10<tspan dy="-3.7" font-size="6.1">0</tspan></text>
<text transform="translate(515.2,258.4) scale(0.9,1)" class="tk">10<tspan dy="-3.7" font-size="6.1">1</tspan></text>
<text transform="translate(287.4,250.6) scale(0.9,1)" class="tk">10<tspan dy="-3.7" font-size="6.1">-1</tspan></text>
<text transform="translate(289.7,171.3) scale(0.9,1)" class="tk">10<tspan dy="-3.7" font-size="6.1">0</tspan></text>
<text transform="translate(289.7,91.9) scale(0.9,1)" class="tk">10<tspan dy="-3.7" font-size="6.1">1</tspan></text>
<text transform="translate(289.7,12.6) scale(0.9,1)" class="tk">10<tspan dy="-3.7" font-size="6.1">2</tspan></text>
<text x="424.1" y="268.2" text-anchor="middle" class="lb">Size (mm)</text>
<text transform="translate(284.9,128.0) rotate(-90)" text-anchor="middle" class="lb">Passing (%)</text>
<text transform="translate(367.1,22.4) scale(0.945,1)" class="tt">Genç - limestone I</text>
<text x="308.9" y="28.5" class="pl">(b)</text>
<rect x="396.9" y="167.7" width="124.3" height="39.6" fill="#fff" stroke="#b4b4b4" stroke-width="0.8"/>
<text x="399.4" y="174.6" class="bx">Swebrec breakage space direct fit</text>
<text x="399.4" y="183.6" class="bx">Constant λ, E<tspan dy="3" dx="0.4" font-size="5.6">min</tspan><tspan dy="-3" dx="0.5">&gt;0</tspan></text>
<text x="399.4" y="195.3" class="bx">Solid &amp; circles: data. Dashed: prediction</text>
<text x="399.4" y="203.4" class="bx">RMSE=1.63</text>
</svg>
</body></html>
